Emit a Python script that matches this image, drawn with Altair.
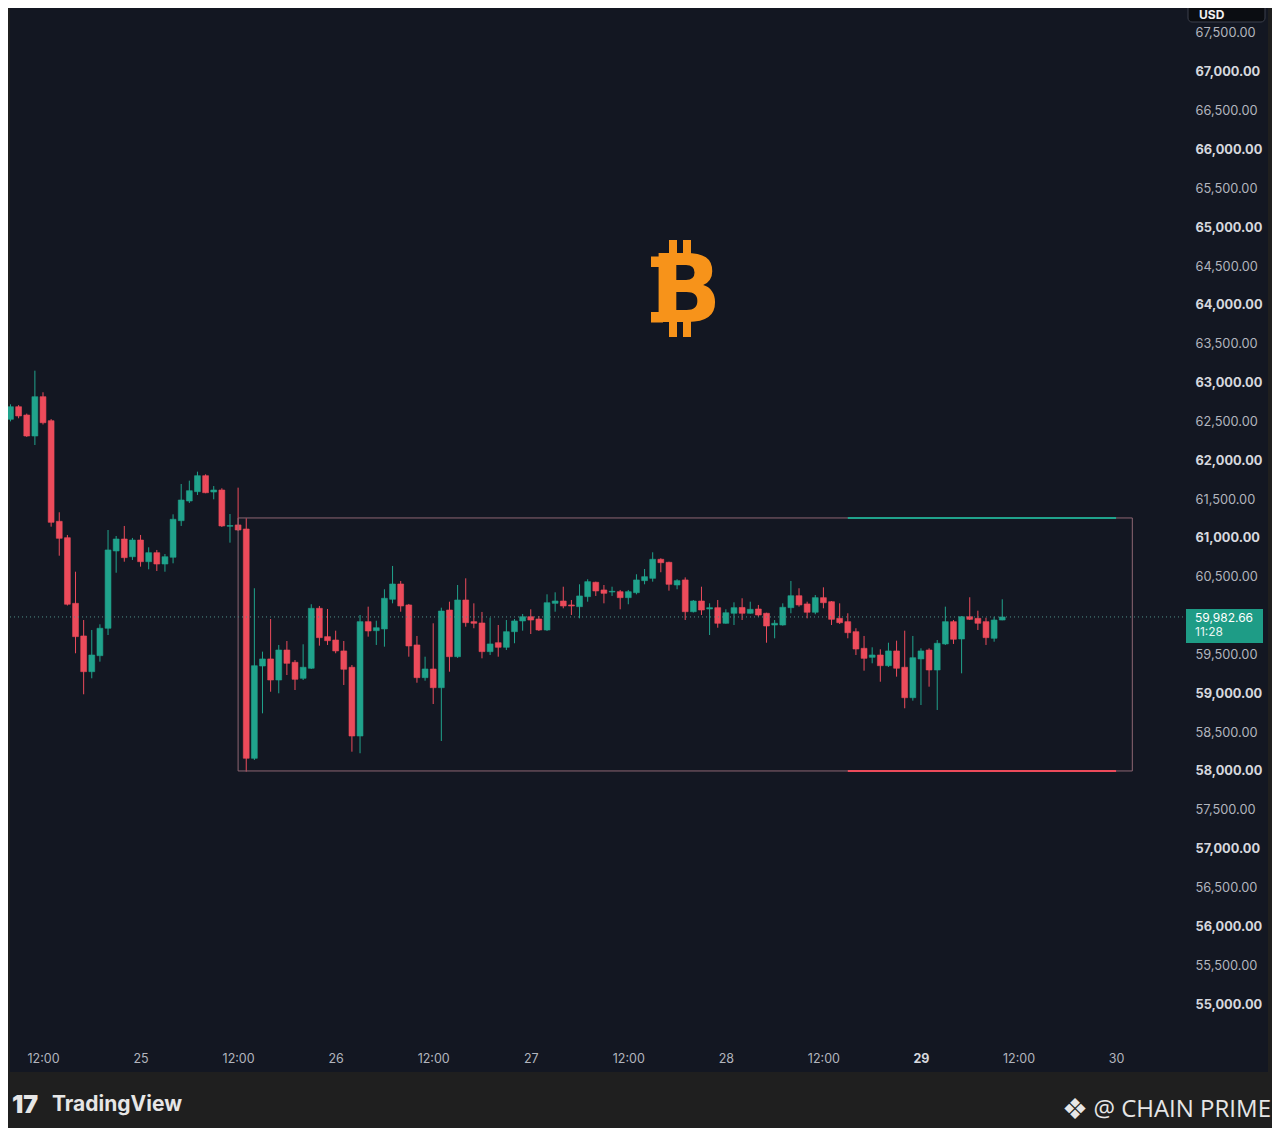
import altair as alt
import pandas as pd

# ---------------- data (1h candles, BTC/USD) ----------------
candle_hours = list(range(8, 131))  # hours since Aug 24 00:00

opens = [62527, 62689, 62582, 62312, 62818, 62509, 61214, 61003, 60158, 59738,
         59278, 59484, 59837, 60832, 60986, 60758, 60973, 60694, 60810, 60664,
         60751, 61222, 61475, 61595, 61801, 61591, 61617, 61150, 61167, 61115,
         58163, 59351, 59442, 59171, 59557, 59399, 59193, 59322, 60094, 59729,
         59686, 59545, 59335, 58450, 59922, 59806, 59828, 60210, 60407, 60137,
         59622, 59201, 59313, 59072, 60072, 59471, 60201, 59922, 59905, 59536,
         59651, 59592, 59793, 59931, 59986, 59956, 59815, 60158, 60188, 60137,
         60115, 60244, 60429, 60330, 60304, 60308, 60231, 60295, 60450, 60480,
         60725, 60686, 60394, 60459, 60050, 60188, 60085, 60102, 59901, 60030,
         60105, 60030, 60085, 60030, 59879, 59879, 60102, 60256, 60150, 60043,
         60231, 60179, 59965, 59922, 59793, 59579, 59463, 59493, 59355, 59545,
         59335, 58943, 59442, 59557, 59300, 59635, 59922, 59699, 59986, 59965,
         59922, 59708, 59943]
highs = [62720, 62710, 62600, 63153, 62875, 62530, 61330, 61038, 60565, 59943,
         59815, 59888, 61102, 61025, 61154, 61000, 61038, 60879, 60845, 60793,
         61304, 61694, 61737, 61853, 61819, 61668, 61639, 61308, 61647, 61253,
         60352, 59536, 59956, 59622, 59673, 59428, 59631, 60146, 60124, 60085,
         59806, 59673, 59364, 60008, 60115, 59934, 60339, 60639, 60446, 60150,
         59738, 59471, 59901, 60102, 60179, 60394, 60480, 60158, 60047, 59973,
         59879, 59943, 59956, 60021, 60081, 59995, 60274, 60300, 60372, 60201,
         60403, 60468, 60437, 60394, 60372, 60330, 60330, 60532, 60600, 60815,
         60738, 60694, 60468, 60492, 60201, 60372, 60158, 60201, 60081, 60171,
         60223, 60179, 60137, 60037, 59943, 60158, 60446, 60352, 60179, 60265,
         60364, 60188, 60158, 60030, 59837, 59738, 59592, 59566, 59651, 59677,
         59806, 59738, 59579, 59579, 59686, 60115, 59943, 59995, 60236, 60063,
         59973, 59986, 60210]
lows = [62500, 62540, 62300, 62196, 62460, 61145, 60771, 60130, 59515, 58987,
        59193, 59407, 59750, 60552, 60694, 60716, 60630, 60596, 60574, 60565,
        60673, 61154, 61450, 61553, 61575, 61497, 61141, 60939, 61090, 57991,
        58141, 58742, 59020, 59000, 59235, 59042, 59171, 59313, 59613, 59622,
        59515, 59107, 58248, 58228, 59729, 59622, 59600, 60158, 60050, 59471,
        59136, 59162, 58862, 58386, 59278, 59455, 59857, 59837, 59450, 59493,
        59471, 59557, 59644, 59806, 59763, 59802, 59802, 60050, 60094, 60008,
        59965, 60179, 60253, 60158, 60253, 60081, 60146, 60274, 60403, 60437,
        60558, 60321, 60339, 59943, 60040, 60008, 59750, 59844, 59895, 59879,
        59943, 60025, 59986, 59651, 59708, 59870, 60030, 60115, 59965, 60017,
        60094, 59879, 59892, 59708, 59493, 59291, 59386, 59149, 59339, 59214,
        58807, 58905, 58849, 59085, 58785, 59622, 59635, 59257, 59943, 59815,
        59622, 59664, 59940]
closes = [62689, 62570, 62312, 62818, 62483, 61201, 60995, 60146, 59729, 59278,
          59493, 59837, 60845, 60986, 60746, 60973, 60694, 60810, 60664, 60758,
          61240, 61488, 61608, 61801, 61582, 61617, 61154, 61160, 61102, 58163,
          59355, 59442, 59171, 59557, 59386, 59180, 59335, 60094, 59716, 59677,
          59545, 59309, 58450, 59922, 59802, 59844, 60223, 60407, 60124, 59609,
          59201, 59313, 59072, 60059, 59471, 60201, 59909, 59901, 59536, 59635,
          59592, 59793, 59931, 59986, 59943, 59815, 60166, 60188, 60124, 60124,
          60253, 60437, 60317, 60287, 60313, 60231, 60308, 60459, 60501, 60725,
          60681, 60403, 60450, 60050, 60188, 60072, 60102, 59901, 60037, 60102,
          60030, 60081, 60008, 59866, 59901, 60107, 60256, 60137, 60043, 60231,
          60166, 59952, 59909, 59780, 59570, 59450, 59493, 59355, 59545, 59322,
          58943, 59458, 59545, 59300, 59644, 59922, 59695, 59986, 59952, 59901,
          59716, 59943, 59982.66]

last_price = 59982.66
countdown = "11:28"

range_top = 61257        # drawn range box
range_bottom = 58000
range_start, range_end = 36, 146
target_start, target_end = 111, 144

x_tick_hours = [12, 24, 36, 48, 60, 72, 84, 96, 108, 120, 132, 144]
# 60,000.00 is hidden behind the last-price badge in the reference
y_tick_prices = [p for p in range(55000, 67501, 500) if p != 60000]

# ---------------- styling ----------------
NAVY = "#131722"
OUTER = "#1f1f1f"
GREEN = "#20a38c"
RED = "#ec4b5b"
AXIS_TXT = "#b2b5be"
AXIS_BOLD = "#d6d8de"
FONT = "Inter"

W, H = 1258, 1064

df = pd.DataFrame({"h": candle_hours, "o": opens, "hi": highs, "lo": lows, "c": closes})
df["dir"] = ["up" if c >= o else "down" for o, c in zip(opens, closes)]

xs = alt.Scale(domain=[7.94, 162.69], nice=False, zero=False)
ys = alt.Scale(domain=[54124.7, 67821.8], nice=False, zero=False)
color = alt.Color("dir:N", scale=alt.Scale(domain=["up", "down"], range=[GREEN, RED]), legend=None)

x_axis = alt.Axis(
    orient="bottom", offset=-32, values=x_tick_hours, title=None, grid=False,
    domain=False, ticks=False, labelFlush=False, labelOverlap=False,
    labelExpr="datum.value % 24 === 0 ? '' + (24 + datum.value / 24) : '12:00'",
    labelFont=FONT, labelFontSize=12.5, labelBaseline="middle", labelPadding=18,
    labelColor={"condition": {"test": "datum.value === 120", "value": AXIS_BOLD}, "value": AXIS_TXT},
    labelFontWeight={"condition": {"test": "datum.value === 120", "value": "bold"}, "value": "normal"},
)
y_axis = alt.Axis(
    orient="right", offset=-84, values=y_tick_prices, title=None, grid=False,
    domain=False, ticks=False, labelOverlap=False, labelFlush=False, format=",.2f",
    labelFont=FONT, labelFontSize=12.8, labelAlign="left", labelBaseline="middle",
    labelPadding=11,
    labelColor={"condition": {"test": "datum.value % 1000 === 0", "value": AXIS_BOLD}, "value": AXIS_TXT},
    labelFontWeight={"condition": {"test": "datum.value % 1000 === 0", "value": "bold"}, "value": "normal"},
)

base = alt.Chart(df)

wicks = base.mark_rule(strokeWidth=1).encode(
    x=alt.X("h:Q", scale=xs, axis=x_axis),
    y=alt.Y("lo:Q", scale=ys, axis=y_axis),
    y2="hi:Q",
    color=color,
)

bodies = base.transform_calculate(
    xl="datum.h - 0.36", xr="datum.h + 0.36"
).mark_rect(strokeWidth=0.6).encode(
    x=alt.X("xl:Q", scale=xs),
    x2="xr:Q",
    y=alt.Y("o:Q", scale=ys),
    y2="c:Q",
    color=color,
    stroke=color,
)

box_df = pd.DataFrame({"t0": [range_start], "t1": [range_end], "top": [range_top], "bot": [range_bottom]})
range_box = alt.Chart(box_df).mark_rect(fillOpacity=0, stroke="#8d6672", strokeWidth=1).encode(
    x=alt.X("t0:Q", scale=xs), x2="t1:Q", y=alt.Y("top:Q", scale=ys), y2="bot:Q"
)

lines_df = pd.DataFrame({
    "t0": [target_start, target_start], "t1": [target_end, target_end],
    "p": [range_top, range_bottom], "kind": ["top", "bottom"],
})
target_lines = alt.Chart(lines_df).mark_rule(strokeWidth=2).encode(
    x=alt.X("t0:Q", scale=xs), x2="t1:Q", y=alt.Y("p:Q", scale=ys),
    color=alt.Color("kind:N", scale=alt.Scale(domain=["top", "bottom"], range=["#5aa9a1", "#9e3a48"]), legend=None),
)

last_df = pd.DataFrame({"p": [last_price], "label": [f"{last_price:,.2f}"], "cd": [countdown]})
price_line = alt.Chart(last_df).mark_rule(strokeDash=[1, 3], strokeWidth=1, color="#4f8f86").encode(
    y=alt.Y("p:Q", scale=ys), x=alt.value(0), x2=alt.value(1174)
)
price_badge = alt.Chart(last_df).mark_rect(color="#1e9c86").encode(
    x=alt.value(1176), x2=alt.value(1253), y=alt.value(601), y2=alt.value(635)
)
price_text = alt.Chart(last_df).mark_text(
    align="left", baseline="middle", font=FONT, fontSize=12, color="#ffffff", yOffset=1
).encode(y=alt.Y("p:Q", scale=ys), x=alt.value(1185), text="label:N")
cd_text = alt.Chart(last_df).mark_text(
    align="left", baseline="middle", font=FONT, fontSize=12, color="#e8f5f2", yOffset=15.5
).encode(y=alt.Y("p:Q", scale=ys), x=alt.value(1185), text="cd:N")

usd_box = alt.Chart(last_df).mark_rect(color="#0b0d12", stroke="#3c404c", strokeWidth=1, cornerRadius=4).encode(
    x=alt.value(1178), x2=alt.value(1255), y=alt.value(-10), y2=alt.value(14)
)
usd_text = alt.Chart(last_df).mark_text(
    text="USD", align="left", baseline="middle", font=FONT, fontSize=12, fontWeight="bold", color="#f0f0f0"
).encode(x=alt.value(1189), y=alt.value(7))

# Bitcoin logo
ORANGE = "#f7931a"
strokes_df = pd.DataFrame({
    "x0": [659, 673, 659, 673, 641, 641], "x1": [667, 681, 667, 681, 653, 653],
    "y0": [232, 232, 306, 306, 248.5, 304], "y1": [252, 252, 329, 329, 259, 314.5],
})
btc_strokes = alt.Chart(strokes_df).mark_rect(color=ORANGE).encode(
    x=alt.X("x0:Q", scale=None), x2="x1:Q", y=alt.Y("y0:Q", scale=None), y2="y1:Q"
)
btc_b = alt.Chart(last_df).mark_text(
    text="B", align="left", baseline="alphabetic", font="DejaVu Sans", fontSize=94, fontWeight="bold", color=ORANGE
).encode(x=alt.value(640), y=alt.value(314))

# Footer
tv_logo = alt.Chart(last_df).mark_text(
    text="17", align="left", baseline="middle", font=FONT, fontSize=25, fontWeight=900, color="#e6e6e6"
).encode(x=alt.value(2), y=alt.value(1097))
tv_text = alt.Chart(last_df).mark_text(
    text="TradingView", align="left", baseline="middle", font=FONT, fontSize=21, fontWeight="bold", color="#e6e6e6"
).encode(x=alt.value(42), y=alt.value(1097))
bn_logo = alt.Chart(last_df).mark_text(
    text="❖", align="center", baseline="middle", font="DejaVu Sans", fontSize=29, color="#e6e6e6"
).encode(x=alt.value(1065), y=alt.value(1102))
cp_text = alt.Chart(last_df).mark_text(
    text="@ CHAIN PRIME", align="right", baseline="middle", font="Open Sans", fontSize=24, color="#e6e6e6"
).encode(x=alt.value(1261), y=alt.value(1102))

chart = alt.layer(
    wicks, bodies, range_box, target_lines, price_line, price_badge, price_text, cd_text,
    usd_box, usd_text, btc_strokes, btc_b, tv_logo, tv_text, bn_logo, cp_text,
).properties(
    width=W, height=H,
    padding={"left": 2, "top": 0, "right": 4, "bottom": 56},
    autosize=alt.AutoSizeParams(type="none"),
    background=OUTER,
).configure_view(fill=NAVY, stroke=None)

chart.save("out.html", embed_options={"renderer": "svg", "actions": False})
